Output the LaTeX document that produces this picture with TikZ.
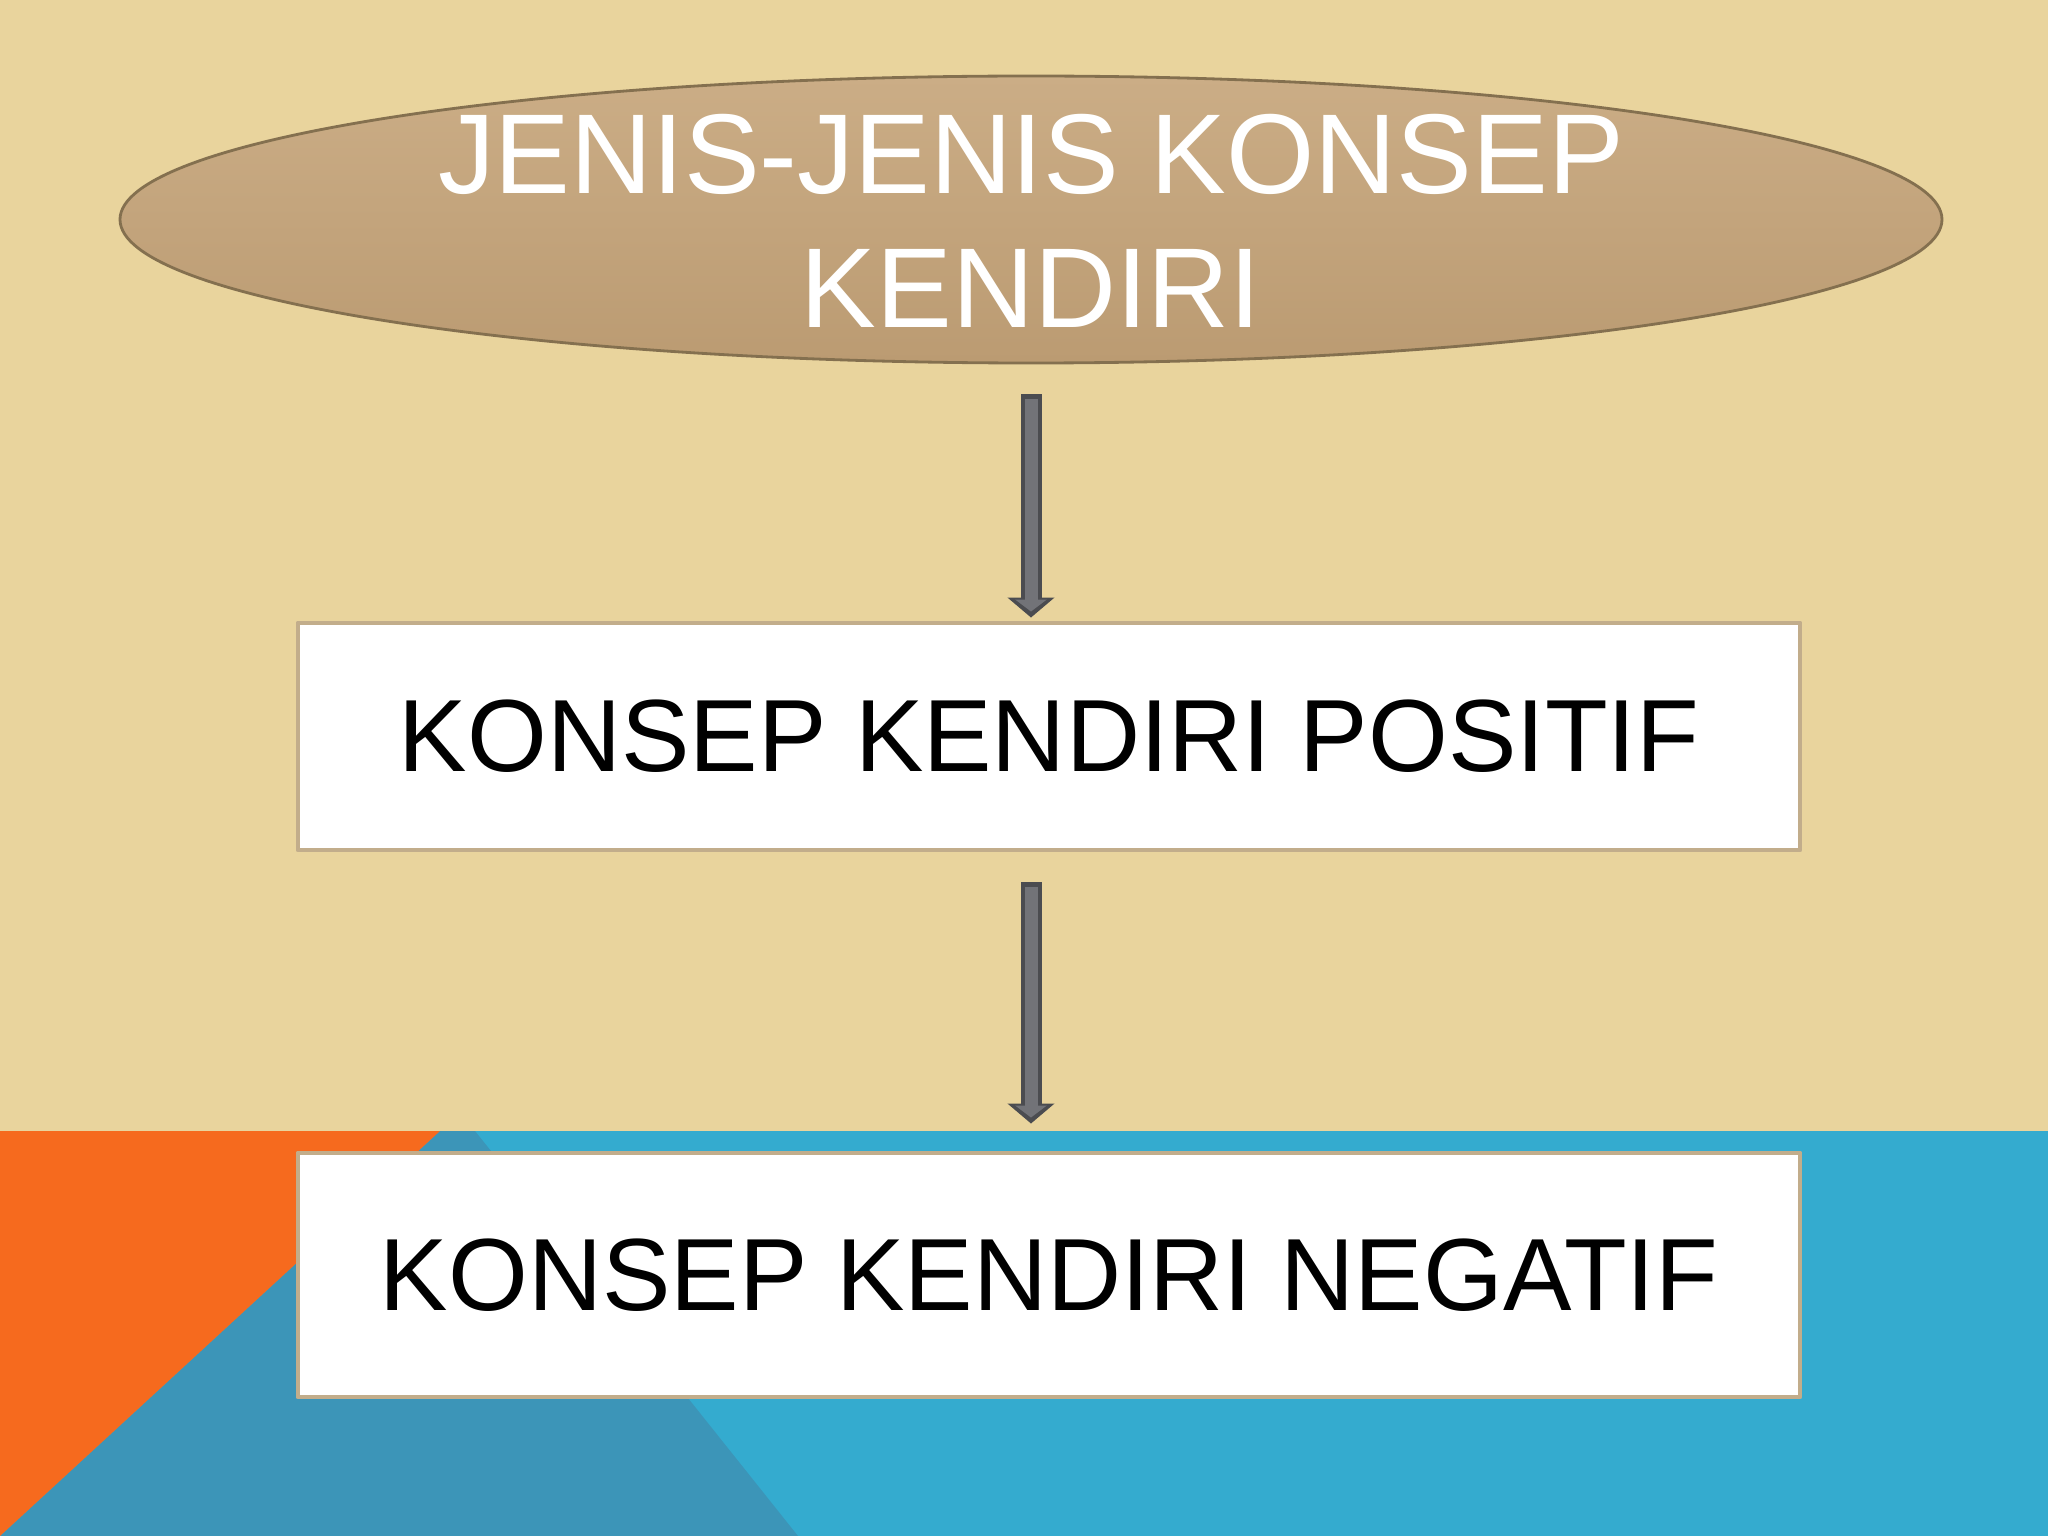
\documentclass[tikz,border=0pt]{standalone}
\usepackage{fontspec}
\setmainfont{Liberation Sans}
\usetikzlibrary{shapes.geometric,arrows.meta,calc}
\definecolor{papertan}{HTML}{E9D49D}
\definecolor{skyblue}{HTML}{34ABCF}
\definecolor{deepblue}{HTML}{3C95B8}
\definecolor{cornerorange}{HTML}{F66A1E}
\definecolor{ovaltop}{HTML}{CBAD86}
\definecolor{ovalbottom}{HTML}{BB9B72}
\definecolor{ovaledge}{HTML}{84704F}
\definecolor{boxedge}{HTML}{C2AD8B}
\definecolor{arrowgrey}{HTML}{727378}
\definecolor{arrowdark}{HTML}{4B4C50}
\tikzset{
  titleshape/.style={ellipse, minimum width=18.22cm, minimum height=2.87cm, inner sep=0pt,
    top color=ovaltop, bottom color=ovalbottom, draw=ovaledge, line width=0.8pt},
  titletext/.style={text=white, align=center, inner sep=0pt, font=\fontsize{32.3}{38}\selectfont},
  kindbox/.style={rectangle, fill=white, draw=boxedge, line width=1.4pt,
    minimum width=15.02cm, inner sep=0pt, font=\fontsize{29.2}{35}\selectfont},
  arrowout/.style={line width=2.1mm, draw=arrowdark, -{Triangle[length=2mm, width=4.6mm]}},
  arrowin/.style={line width=1.3mm, draw=arrowgrey, -{Triangle[length=1.2mm, width=3.1mm]},
    shorten >=0.6mm, shorten <=0.5mm}
}
\begin{document}
\begin{tikzpicture}[line join=round]
\useasboundingbox (0,0) rectangle (20.48,-15.36);
% background
\fill[papertan] (0,0) rectangle (20.48,-15.36);
\fill[skyblue] (0,-11.31) rectangle (20.48,-15.36);
\fill[deepblue] (0,-15.36) -- (4.40,-11.31) -- (4.75,-11.31) -- (7.98,-15.36) -- cycle;
\fill[cornerorange] (0,-11.31) -- (4.40,-11.31) -- (0,-15.36) -- cycle;

\node (title) [titleshape] at (10.31,-2.195) {};
\node (titletext) [titletext] at (10.31,-2.21) {JENIS-JENIS KONSEP\\KENDIRI};
\node (box1) [kindbox, minimum height=2.27cm] at (10.49,-7.365) {KONSEP KENDIRI POSITIF};
\node (box2) [kindbox, minimum height=2.44cm] at (10.49,-12.75) {KONSEP KENDIRI NEGATIF};

\foreach \from/\to/\gap in {title/box1/0.03,box1/box2/0.27}
{
\draw[arrowout] ($(\from.south -| title.center)+(0,-0.3)$) -- ($(\to.north -| title.center)+(0,\gap)$);
\draw[arrowin] ($(\from.south -| title.center)+(0,-0.3)$) -- ($(\to.north -| title.center)+(0,\gap)$);
}
\end{tikzpicture}
\end{document}
